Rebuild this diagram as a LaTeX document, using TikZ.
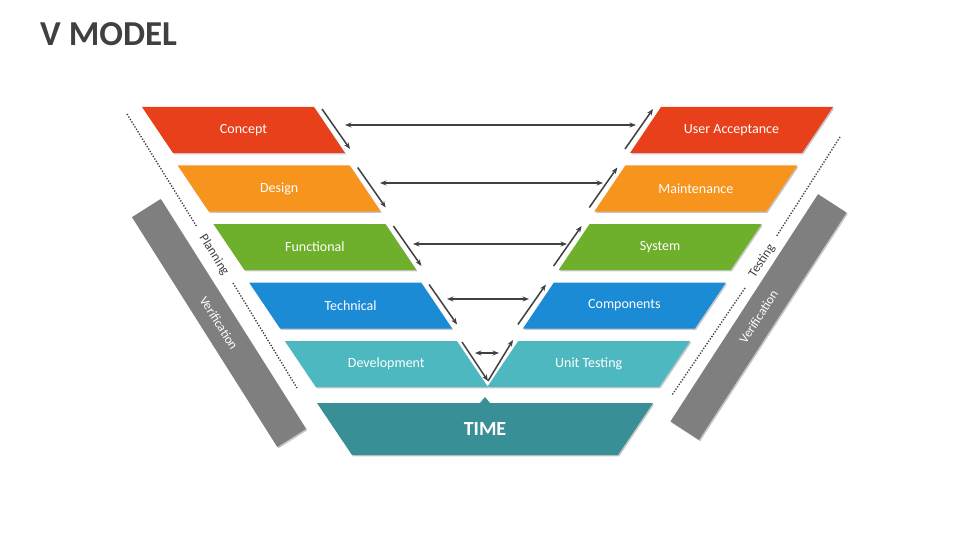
\documentclass[tikz,border=0pt]{standalone}
\usepackage{fontspec}
\setmainfont{Carlito}
\usetikzlibrary{arrows.meta,shadows}
\definecolor{cred}{HTML}{E8401A}
\definecolor{corange}{HTML}{F7941D}
\definecolor{cgreen}{HTML}{6EAF2B}
\definecolor{cblue}{HTML}{1C8BD6}
\definecolor{cteal}{HTML}{4EB8C1}
\definecolor{ctime}{HTML}{388F96}
\definecolor{cgray}{HTML}{7F7F7F}
\definecolor{cdark}{HTML}{404040}
\tikzset{
  shadowed/.style={drop shadow={shadow xshift=1.2pt, shadow yshift=-1.4pt, fill=black, opacity=0.22}},
  lbl/.style={text=white, font=\fontsize{14}{16}\selectfont, inner sep=0pt},
  arr/.style={draw=cdark, line width=1.5pt, -{Stealth[length=6.5pt,width=5pt]}},
  dblarr/.style={draw=cdark, line width=1.5pt, {Stealth[length=6.5pt,width=5pt]}-{Stealth[length=6.5pt,width=5pt]}},
  dots/.style={draw=cdark, line width=1.4pt, dash pattern=on 1.3pt off 1.6pt},
  sidelbl/.style={text=cdark, font=\fontsize{13}{15}\selectfont, inner sep=0pt},
  bar/.style={fill=cgray, shadowed, minimum height=34pt, inner sep=0pt},
  bartext/.style={text=white, font=\fontsize{13}{15}\selectfont, inner sep=0pt}
}
\begin{document}
\begin{tikzpicture}[x=1pt,y=1pt]
\useasboundingbox (0,0) rectangle (960,-540);
% title
\node[anchor=base west, inner sep=0pt, text=cdark, font=\fontsize{35}{40}\selectfont\bfseries] (title) at (40,-45.7) {V MODEL};
% parallelograms
\foreach \i/\lt/\rt/\col in {0/Concept/User Acceptance/cred, 1/Design/Maintenance/corange, 2/Functional/System/cgreen, 3/Technical/Components/cblue, 4/Development/Unit Testing/cteal}{
  \pgfmathsetmacro\x{142+35.7*\i}
  \pgfmathsetmacro\y{-107-58.5*\i}
  \pgfmathsetmacro\xr{661-35.7*\i}
  \fill[\col, shadowed] (\x,\y) -- ++(172,0) -- ++(31,-46) -- ++(-172,0) -- cycle;
  \node[lbl] (L\i) at (\x+101.5,\y-23) {\lt};
  \fill[\col, shadowed] (\xr,\y) -- ++(172,0) -- ++(-31,-46) -- ++(-172,0) -- cycle;
  \node[lbl] (R\i) at (\xr+70.5,\y-23) {\rt};
}
% diagonal arrows
\foreach \i in {0,1,2,3}{
  \pgfmathsetmacro\x{142+35.7*\i}
  \pgfmathsetmacro\y{-107-58.5*\i}
  \coordinate (ds\i) at (\x+180,\y-2);
  \coordinate (de\i) at (\x+208,\y-42);
  \coordinate (us\i) at (767-\x,\y-42);
  \coordinate (ue\i) at (795-\x,\y-2);
  \draw[arr] (ds\i) -- (de\i);
  \draw[arr] (us\i) -- (ue\i);
}
\coordinate (ds4) at (462,-342);
\coordinate (vtx) at (488,-381);
\coordinate (ue4) at (513,-340);
\draw[arr] (ds4) -- (vtx);
\draw[arr] (vtx) -- (ue4);
% horizontal arrows
\foreach \i/\a/\b/\yy in {0/345/636/125, 1/380/603/183, 2/413/567/244, 3/447/529/299, 4/475/499/353}{
  \coordinate (ha\i) at (\a,-\yy);
  \coordinate (hb\i) at (\b,-\yy);
  \draw[dblarr] (ha\i) -- (hb\i);
}
% TIME
\fill[ctime, shadowed] (317,-403) -- (653,-403) -- (618,-455) -- (352,-455) -- cycle;
\fill[ctime] (479.5,-403.5) -- (485,-397) -- (490.5,-403.5) -- cycle;
\node[text=white, font=\fontsize{20}{24}\selectfont\bfseries, inner sep=0pt] (time) at (485,-429) {TIME};
% dotted lines
\coordinate (p1) at (127,-114); \coordinate (p2) at (197,-227);
\coordinate (p3) at (233,-283); \coordinate (p4) at (297,-388);
\draw[dots] (p1) -- (p2);
\draw[dots] (p3) -- (p4);
\node[sidelbl, rotate=-58.2] (planning) at (214,-255) {Planning};
\coordinate (q1) at (840,-137); \coordinate (q2) at (776,-237);
\coordinate (q3) at (745,-288); \coordinate (q4) at (672,-395);
\draw[dots] (q1) -- (q2);
\draw[dots] (q3) -- (q4);
\node[sidelbl, rotate=57] (testing) at (762,-261) {Testing};
% verification bars
\node[bar, minimum width=272pt, rotate=-57.7] (vl) at (219,-323) {};
\node[bartext, rotate=-57.7] (vlt) at (vl.center) {Verification};
\node[bar, minimum width=271pt, rotate=57] (vr) at (758.5,-317) {};
\node[bartext, rotate=57] (vrt) at (vr.center) {Verification};
\end{tikzpicture}
\end{document}
